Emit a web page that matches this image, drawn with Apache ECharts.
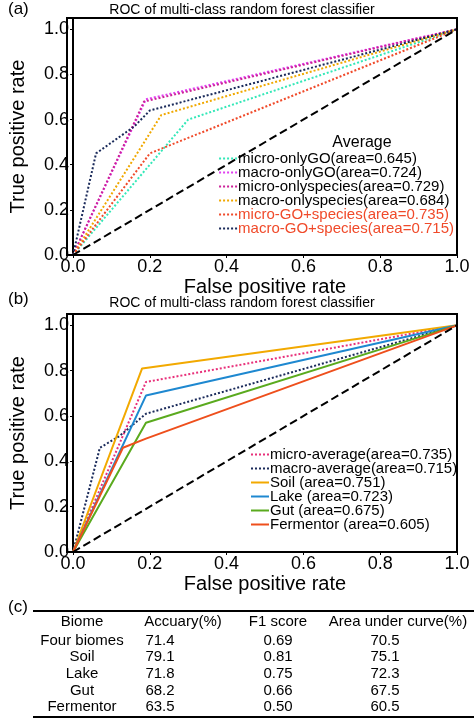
<!DOCTYPE html>
<html><head><meta charset="utf-8">
<script src="https://cdn.jsdelivr.net/npm/echarts@6/dist/echarts.min.js"></script>
<style>html,body{margin:0;padding:0;background:#fff}#c{width:474px;height:726px}</style>
</head><body><div id="c"></div>
<script>
// Panel (a) ROC curves [fpr, tpr]
const aMicroOnlyGO = [[0,0],[0.3,0.6],[1,1]];
const aMacroOnlyGO = [[0,0],[0.19,0.69],[1,1]];
const aMicroOnlySpecies = [[0,0],[0.185,0.68],[1,1]];
const aMacroOnlySpecies = [[0,0],[0.23,0.62],[1,1]];
const aMicroGOSpecies = [[0,0],[0.2,0.45],[1,1]];
const aMacroGOSpecies = [[0,0],[0.06,0.45],[0.16,0.57],[0.2,0.64],[1,1]];
const diagonal = [[0,0],[1,1]];
// Panel (b)
const bMicro = [[0,0],[0.19,0.75],[1,1]];
const bMacro = [[0,0],[0.07,0.46],[0.12,0.51],[0.19,0.61],[1,1]];
const bSoil = [[0,0],[0.18,0.81],[1,1]];
const bLake = [[0,0],[0.19,0.69],[1,1]];
const bGut = [[0,0],[0.19,0.57],[1,1]];
const bFerm = [[0,0],[0.13,0.46],[0.19,0.5],[1,1]];
const axisTicks = [0,0.2,0.4,0.6,0.8,1.0];
// Table (c)
const tableHeader = ['Biome','Accuary(%)','F1 score','Area under curve(%)'];
const biomes = ['Four biomes','Soil','Lake','Gut','Fermentor'];
const accuracy = ['71.4','79.1','71.8','68.2','63.5'];
const f1 = ['0.69','0.81','0.75','0.66','0.50'];
const auc = ['70.5','75.1','72.3','67.5','60.5'];

const F = 'Liberation Sans, Arial, sans-serif';
const chart = echarts.init(document.getElementById('c'));
function xAx(i){return {gridIndex:i,type:'value',min:0,max:1,interval:0.2,
  name:'False positive rate',nameLocation:'middle',nameGap:22,nameTextStyle:{fontSize:20,color:'#000',fontFamily:F},
  axisLine:{lineStyle:{color:'#000',width:2}},axisTick:{show:true,inside:false,length:3,lineStyle:{color:'#000'}},
  axisLabel:{fontSize:18,color:'#000',fontFamily:F,margin:3,formatter:v=>v.toFixed(1)},splitLine:{show:false}};}
function yAx(i){return {gridIndex:i,type:'value',min:0,max:1.05,interval:0.2,
  name:'True positive rate',nameLocation:'middle',nameGap:45,nameTextStyle:{fontSize:20,color:'#000',fontFamily:F},
  axisLine:{lineStyle:{color:'#000',width:2}},axisTick:{show:true,length:3,lineStyle:{color:'#000'}},
  axisLabel:{fontSize:18,color:'#000',fontFamily:F,margin:4,formatter:v=>v>1.001?'':v.toFixed(1),showMaxLabel:false},splitLine:{show:false}};}
function s(name,data,color,type,i,w){return {name,type:'line',data,xAxisIndex:i,yAxisIndex:i,symbol:'none',
  lineStyle:{color,type:type,width:w||2},itemStyle:{color},silent:true,animation:false,z:3};}
const series = [
  s('micro-onlyGO(area=0.645)',aMicroOnlyGO,'#33e8b8','dotted',0),
  s('macro-onlyGO(area=0.724)',aMacroOnlyGO,'#e040f0','dotted',0),
  s('micro-onlyspecies(area=0.729)',aMicroOnlySpecies,'#cc2299','dotted',0),
  s('macro-onlyspecies(area=0.684)',aMacroOnlySpecies,'#f0a800','dotted',0),
  s('micro-GO+species(area=0.735)',aMicroGOSpecies,'#f04a2a','dotted',0),
  s('macro-GO+species(area=0.715)',aMacroGOSpecies,'#1a2a5a','dotted',0),
  s('diagA',diagonal,'#000','dashed',0),
  s('micro-average(area=0.735)',bMicro,'#e8307a','dotted',1),
  s('macro-average(area=0.715)',bMacro,'#1a2a5a','dotted',1),
  s('Soil (area=0.751)',bSoil,'#f2a900','solid',1),
  s('Lake (area=0.723)',bLake,'#1e88d0','solid',1),
  s('Gut (area=0.675)',bGut,'#5aaa1e','solid',1),
  s('Fermentor (area=0.605)',bFerm,'#ee4f1c','solid',1),
  s('diagB',diagonal,'#000','dashed',1)
];
const graphics = [
  {type:'text',left:8,top:1,style:{text:'(a)',fontSize:17,fill:'#000',fontFamily:F}},
  {type:'text',left:8,top:291,style:{text:'(b)',fontSize:17,fill:'#000',fontFamily:F}},
  {type:'text',left:8,top:599,style:{text:'(c)',fontSize:17,fill:'#000',fontFamily:F}},
  {type:'text',x:242,y:3,style:{text:'ROC of multi-class random forest classifier',fontSize:14,fill:'#000',fontFamily:F,align:'center'}},
  {type:'text',x:242,y:296,style:{text:'ROC of multi-class random forest classifier',fontSize:14,fill:'#000',fontFamily:F,align:'center'}},
  {type:'text',x:362,y:135,style:{text:'Average',fontSize:16,fill:'#000',fontFamily:F,align:'center'}},
  {type:'rect',shape:{x:67,y:18,width:390,height:237},style:{fill:'none',stroke:'#000',lineWidth:2},z:10},
  {type:'rect',shape:{x:67,y:314,width:390,height:238},style:{fill:'none',stroke:'#000',lineWidth:2},z:10},
  {type:'line',shape:{x1:33,y1:611,x2:474,y2:611},style:{stroke:'#000',lineWidth:2}},
  {type:'line',shape:{x1:33,y1:717,x2:474,y2:717},style:{stroke:'#000',lineWidth:2}}
];
const colX = [82,183,278,398];
tableHeader.forEach((h,j)=>graphics.push({type:'text',x:colX[j],y:614,style:{text:h,fontSize:15,fill:'#000',fontFamily:F,align:'center'}}));
const valX = [82,160,278,385];
biomes.forEach((b,i)=>{
  const row=[b,accuracy[i],f1[i],auc[i]];
  row.forEach((t,j)=>graphics.push({type:'text',x:valX[j],y:633+i*16.7,style:{text:t,fontSize:15,fill:'#000',fontFamily:F,align:'center'}}));
});
const legA = ['micro-onlyGO(area=0.645)','macro-onlyGO(area=0.724)','micro-onlyspecies(area=0.729)','macro-onlyspecies(area=0.684)','micro-GO+species(area=0.735)','macro-GO+species(area=0.715)'];
const legB = ['micro-average(area=0.735)','macro-average(area=0.715)','Soil (area=0.751)','Lake (area=0.723)','Gut (area=0.675)','Fermentor (area=0.605)'];
chart.setOption({
  animation:false,
  textStyle:{fontFamily:F},
  grid:[{left:67,top:18,width:390,height:237},{left:67,top:314,width:390,height:238}],
  xAxis:[xAx(0),xAx(1)],
  yAxis:[yAx(0),yAx(1)],
  legend:[
    {orient:'vertical',right:20,top:151,itemGap:-1,itemWidth:18,itemHeight:10,padding:0,itemStyle:{opacity:0},
     data:legA.map((n,i)=>({name:n,textStyle:i>=4?{color:'#f04a2a'}:{}})),
     textStyle:{fontSize:15,color:'#000',fontFamily:F,padding:[0,0,0,-4]}},
    {orient:'vertical',left:250,top:447,itemGap:-1,itemWidth:18,itemHeight:10,padding:0,itemStyle:{opacity:0},
     data:legB,textStyle:{fontSize:15,color:'#000',fontFamily:F,padding:[0,0,0,-4]}}
  ],
  series,
  graphic:graphics
});
</script></body></html>
